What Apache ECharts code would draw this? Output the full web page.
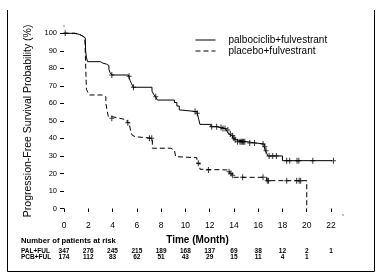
<!DOCTYPE html>
<html>
<head>
<meta charset="utf-8">
<script src="https://cdn.jsdelivr.net/npm/echarts@6/dist/echarts.min.js"></script>
<style>
html,body{margin:0;padding:0;background:#fff;}
#c{width:387px;height:278px;}
</style>
</head>
<body>
<div id="c"></div>
<script>
// ---- data ----
const seriesNames = ['palbociclib+fulvestrant', 'placebo+fulvestrant'];
const palCurve = [
  [0,100],[0.9,99.3],[1.3,98.4],[1.55,97.4],[1.75,96.5],[1.78,90],[1.85,86],[1.95,83.8],
  [3.0,83.0],[3.2,82.4],[3.5,81.6],[3.7,79.5],[3.8,77.5],[3.95,76.2],[5.3,75.5],[5.45,73],
  [5.55,71.5],[5.7,69.2],[7.25,67],[7.4,65],[7.55,63.8],[7.7,61.9],[9.1,60.5],[9.3,58.5],
  [9.5,56.3],[9.6,55.3],[10.95,54.3],[11.1,51],[11.2,48.0],[12.1,46.7],[12.6,46.2],[13.0,45.6],
  [13.3,44.8],[13.45,43.8],[13.6,42.5],[13.75,41.5],[13.9,40.3],[14.05,39.2],[14.2,38.1],
  [15.1,37.4],[15.8,36.8],[16.5,35.3],[16.6,33],[16.7,31.5],[16.8,30],[18.0,27.3],[22.3,27.3]
];
const pcbCurve = [
  [0,100],[0.9,99.3],[1.3,98.4],[1.55,97.4],[1.72,96.5],[1.76,88],[1.8,78],[1.85,68],
  [1.95,66.5],[2.1,64.8],[3.15,63.8],[3.45,60],[3.55,56],[3.65,52.5],[3.9,51.5],[4.6,50.5],
  [5.2,49.0],[5.4,47.5],[5.5,44],[5.6,42],[5.75,41],[5.85,40.1],[7.28,34.4],[8.8,33.3],
  [9.1,32.4],[9.2,29.6],[9.3,29.0],[10.95,25.8],[11.2,22.4],[11.35,22],[13.55,21],[13.7,20],
  [13.85,19],[13.95,17.8],[16.7,15.9],[20.0,0]
];
const palCensor = [
  [0.1,100],[3.94,76.2],[5.36,75.5],[5.72,69.2],[7.56,63.8],[10.8,55.3],[10.98,54.3],
  [12.17,46.7],[12.58,46.7],[12.94,46.2],[13.1,45.6],[13.27,45.6],[13.5,44.8],[13.7,42.5],
  [13.9,41.5],[14.0,40.3],[14.1,39.2],[14.3,38.1],[14.5,38.1],[14.6,38.1],[14.7,38.1],
  [14.8,38.1],[14.9,38.1],[15.3,37.4],[15.7,37.4],[16.4,36.8],[16.55,35.3],[16.65,33],
  [16.9,30],[17.2,30],[17.5,30],[18.35,27.3],[18.6,27.3],[19.2,27.3],[19.35,27.3],
  [20.5,27.3],[22.2,27.3]
];
const pcbCensor = [
  [3.94,51.5],[5.26,49.0],[7.04,40.1],[7.23,40.1],[11.07,25.8],[11.9,22],[13.6,21],
  [13.75,20],[13.9,19],[14.72,17.8],[16.4,17.8],[16.75,15.9],[16.85,15.9],[18.35,15.9],
  [19.17,15.9],[19.38,15.9],[19.5,15.9]
];
const riskTimes = [0,2,4,6,8,10,12,14,16,18,20,22];
const palRisk = [347,276,245,215,189,168,137,69,38,12,2,1];
const pcbRisk = [174,112,83,62,51,43,29,15,11,4,1];
const riskRowLabels = ['PAL+FUL', 'PCB+FUL'];

// ---- chart ----
const FONT = '"Liberation Sans", Arial, sans-serif';
const plus = 'path://M0,2.5H5V3.5H0Z M2,0H3V6H2Z';
const chart = echarts.init(document.getElementById('c'), null, {renderer: 'canvas'});

function riskAxis(values, margin) {
  return {
    type: 'value', min: 0, max: 22, interval: 2, position: 'bottom',
    axisLine: {show: false}, axisTick: {show: false}, splitLine: {show: false},
    axisLabel: {
      margin: margin, fontSize: 6.5, fontWeight: 'bold', color: '#000', fontFamily: FONT,
      formatter: v => { const i = riskTimes.indexOf(v); return (i >= 0 && values[i] != null) ? String(values[i]) : ''; }
    }
  };
}

chart.setOption({
  animation: false,
  backgroundColor: '#fff',
  textStyle: {fontFamily: FONT, color: '#000'},
  grid: {left: 64, right: 56, top: 33.3, bottom: 69.5, containLabel: false},
  legend: {
    left: 190, top: 30, orient: 'vertical', itemWidth: 20, itemHeight: 10, itemGap: 1,
    data: seriesNames,
    itemStyle: {opacity: 0},
    lineStyle: {width: 1},
    textStyle: {fontSize: 10, color: '#000', fontFamily: FONT, padding: [0, 0, 0, 8]}
  },
  xAxis: [
    {
      type: 'value', min: 0, max: 22, interval: 2, offset: 7,
      name: 'Time (Month)', nameLocation: 'middle', nameGap: 16.5,
      nameTextStyle: {fontSize: 10, fontWeight: 'bold', color: '#000', fontFamily: FONT},
      axisLine: {show: false},
      axisTick: {show: true, length: 3.5, lineStyle: {color: '#000', width: 1}},
      splitLine: {show: false},
      axisLabel: {margin: 5.5, fontSize: 8.5, color: '#000', fontFamily: FONT}
    },
    riskAxis(palRisk, 39),
    riskAxis(pcbRisk, 45)
  ],
  yAxis: {
    type: 'value', min: 0, max: 100, interval: 10,
    name: 'Progression-Free Survival Probability (%)', nameLocation: 'middle', nameGap: 21,
    nameTextStyle: {fontSize: 10.5, color: '#000', fontFamily: FONT},
    axisLine: {show: false},
    axisTick: {show: true, length: 4, lineStyle: {color: '#000', width: 1}},
    splitLine: {show: false},
    axisLabel: {margin: 7, fontSize: 7.5, color: '#000', fontFamily: FONT}
  },
  series: [
    {
      name: seriesNames[0], type: 'line', step: 'end', data: palCurve, symbol: 'none', clip: false,
      lineStyle: {color: '#000', width: 1, type: 'solid'}, itemStyle: {color: '#000'}
    },
    {
      name: seriesNames[1], type: 'line', step: 'end', data: pcbCurve, symbol: 'none', clip: false,
      lineStyle: {color: '#000', width: 1, type: [5, 3]}, itemStyle: {color: '#000'}
    },
    {
      name: 'palCensor', type: 'scatter', data: palCensor, symbol: plus, symbolSize: [5, 6], clip: false,
      itemStyle: {color: '#000'}, silent: true
    },
    {
      name: 'pcbCensor', type: 'scatter', data: pcbCensor, symbol: plus, symbolSize: [5, 6], clip: false,
      itemStyle: {color: '#000'}, silent: true
    }
  ],
  graphic: [
    {type: 'polyline', shape: {points: [[7.5, 10], [7.5, 271.5], [374.5, 271.5], [374.5, 10]]},
     style: {stroke: '#000', lineWidth: 1, fill: null}},
    {type: 'text', left: 21, top: 237, style: {text: 'Number of patients at risk', fontSize: 7.7, fontWeight: 'bold', fill: '#000', fontFamily: FONT}},
    {type: 'text', left: 21, top: 247.5, style: {text: riskRowLabels[0], fontSize: 6.5, fontWeight: 'bold', fill: '#000', fontFamily: FONT}},
    {type: 'text', left: 21, top: 253.5, style: {text: riskRowLabels[1], fontSize: 6.5, fontWeight: 'bold', fill: '#000', fontFamily: FONT}},
    {type: 'rect', shape: {x: 63.5, y: 25.5, width: 1, height: 1}, style: {fill: '#000'}},
    {type: 'rect', shape: {x: 342.5, y: 214.5, width: 1, height: 1}, style: {fill: '#000'}}
  ]
});
</script>
</body>
</html>
